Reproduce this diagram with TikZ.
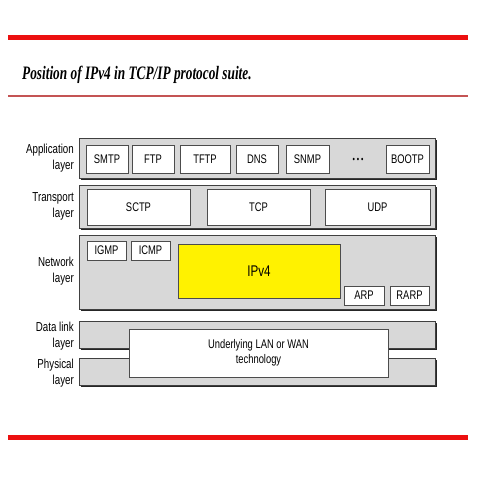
\documentclass[tikz,border=0pt]{standalone}
\usepackage{fontspec}
\setmainfont{Liberation Sans}[FakeStretch=0.75]
\newfontfamily\titlefont{Liberation Serif}[FakeStretch=0.7]
\usetikzlibrary{shadows}
\definecolor{titlered}{RGB}{236,16,16}
\definecolor{rulered}{RGB}{196,84,84}
\definecolor{bandgray}{RGB}{216,216,216}
\begin{document}
\begin{tikzpicture}[x=1pt,y=-1pt,
    band/.style={draw=black!75, line width=0.8pt, fill=bandgray, inner sep=0pt,
        minimum width=356pt,
        general shadow={fill=black!85, shadow xshift=2.2pt, shadow yshift=-2.2pt}},
    proto/.style={draw=black!70, line width=0.9pt, fill=white, inner sep=0pt,
        font=\fontsize{12.5}{15}\selectfont},
    layername/.style={anchor=east, align=right, inner sep=0pt,
        font=\fontsize{13}{16}\selectfont}]
                \useasboundingbox (0,0) rectangle (480,480);
                % red rules
                \draw[titlered, line width=5pt] (8,37) -- (468,37);
                \draw[rulered, line width=1.8pt] (8,96) -- (468,96);
                \draw[titlered, line width=5pt] (8,437) -- (468,437);
                \node[anchor=base west, inner sep=0pt, font=\titlefont\fontsize{19}{21}\selectfont\bfseries\itshape]
                    (title) at (22,79) {Position of IPv4 in TCP/IP protocol suite.};
                % layer bands
                \node[band, minimum height=40pt] (app) at (257,158) {};
                \node[band, minimum height=43pt] (trans) at (257,206.5) {};
                \node[band, minimum height=74pt] (net) at (257,272) {};
                \node[band, minimum height=27pt] (link) at (257,334.5) {};
                \node[band, minimum height=27pt] (phys) at (257,371.5) {};
                % layer names
                \node[layername] (appname) at (74,158) {Application\\layer};
                \node[layername] (transname) at (74,206) {Transport\\layer};
                \node[layername] (netname) at (74,271) {Network\\layer};
                \node[layername] (linkname) at (74,336) {Data link\\layer};
                \node[layername] (physname) at (74,373) {Physical\\layer};
                % application layer
                \node[proto, minimum width=42pt, minimum height=28pt] (smtp) at (107,159) {SMTP};
                \node[proto, minimum width=42pt, minimum height=28pt] (ftp) at (153,159) {FTP};
                \node[proto, minimum width=50pt, minimum height=28pt] (tftp) at (205,159) {TFTP};
                \node[proto, minimum width=42pt, minimum height=28pt] (dns) at (257,159) {DNS};
                \node[proto, minimum width=43pt, minimum height=28pt] (snmp) at (307.5,159) {SNMP};
                \node[font=\small] (dots) at (358,160) {\textbullet\ \textbullet\ \textbullet};
                \node[proto, minimum width=43pt, minimum height=28pt] (bootp) at (407.5,159) {BOOTP};
                % transport layer
                \node[proto, minimum width=103pt, minimum height=36pt] (sctp) at (138.5,207) {SCTP};
                \node[proto, minimum width=103pt, minimum height=36pt] (tcp) at (258.5,207) {TCP};
                \node[proto, minimum width=105pt, minimum height=36pt] (udp) at (377.5,207) {UDP};
                % network layer
                \node[proto, minimum width=39pt, minimum height=19pt] (igmp) at (106.5,250.5) {IGMP};
                \node[proto, minimum width=39pt, minimum height=19pt] (icmp) at (150.5,250.5) {ICMP};
                \node[proto, fill=yellow, minimum width=162pt, minimum height=54pt,
                    font=\fontsize{15.5}{18}\selectfont] (ipv4) at (259,271) {IPv4};
                \node[proto, minimum width=40pt, minimum height=19pt] (arp) at (364,295.5) {ARP};
                \node[proto, minimum width=39pt, minimum height=19pt] (rarp) at (409.5,295.5) {RARP};
                % data link and physical
                \node[proto, align=center, minimum width=259pt, minimum height=48pt] (lanwan)
                    at (258.5,353) {Underlying LAN or WAN\\technology};
            \end{tikzpicture}
\end{document}
